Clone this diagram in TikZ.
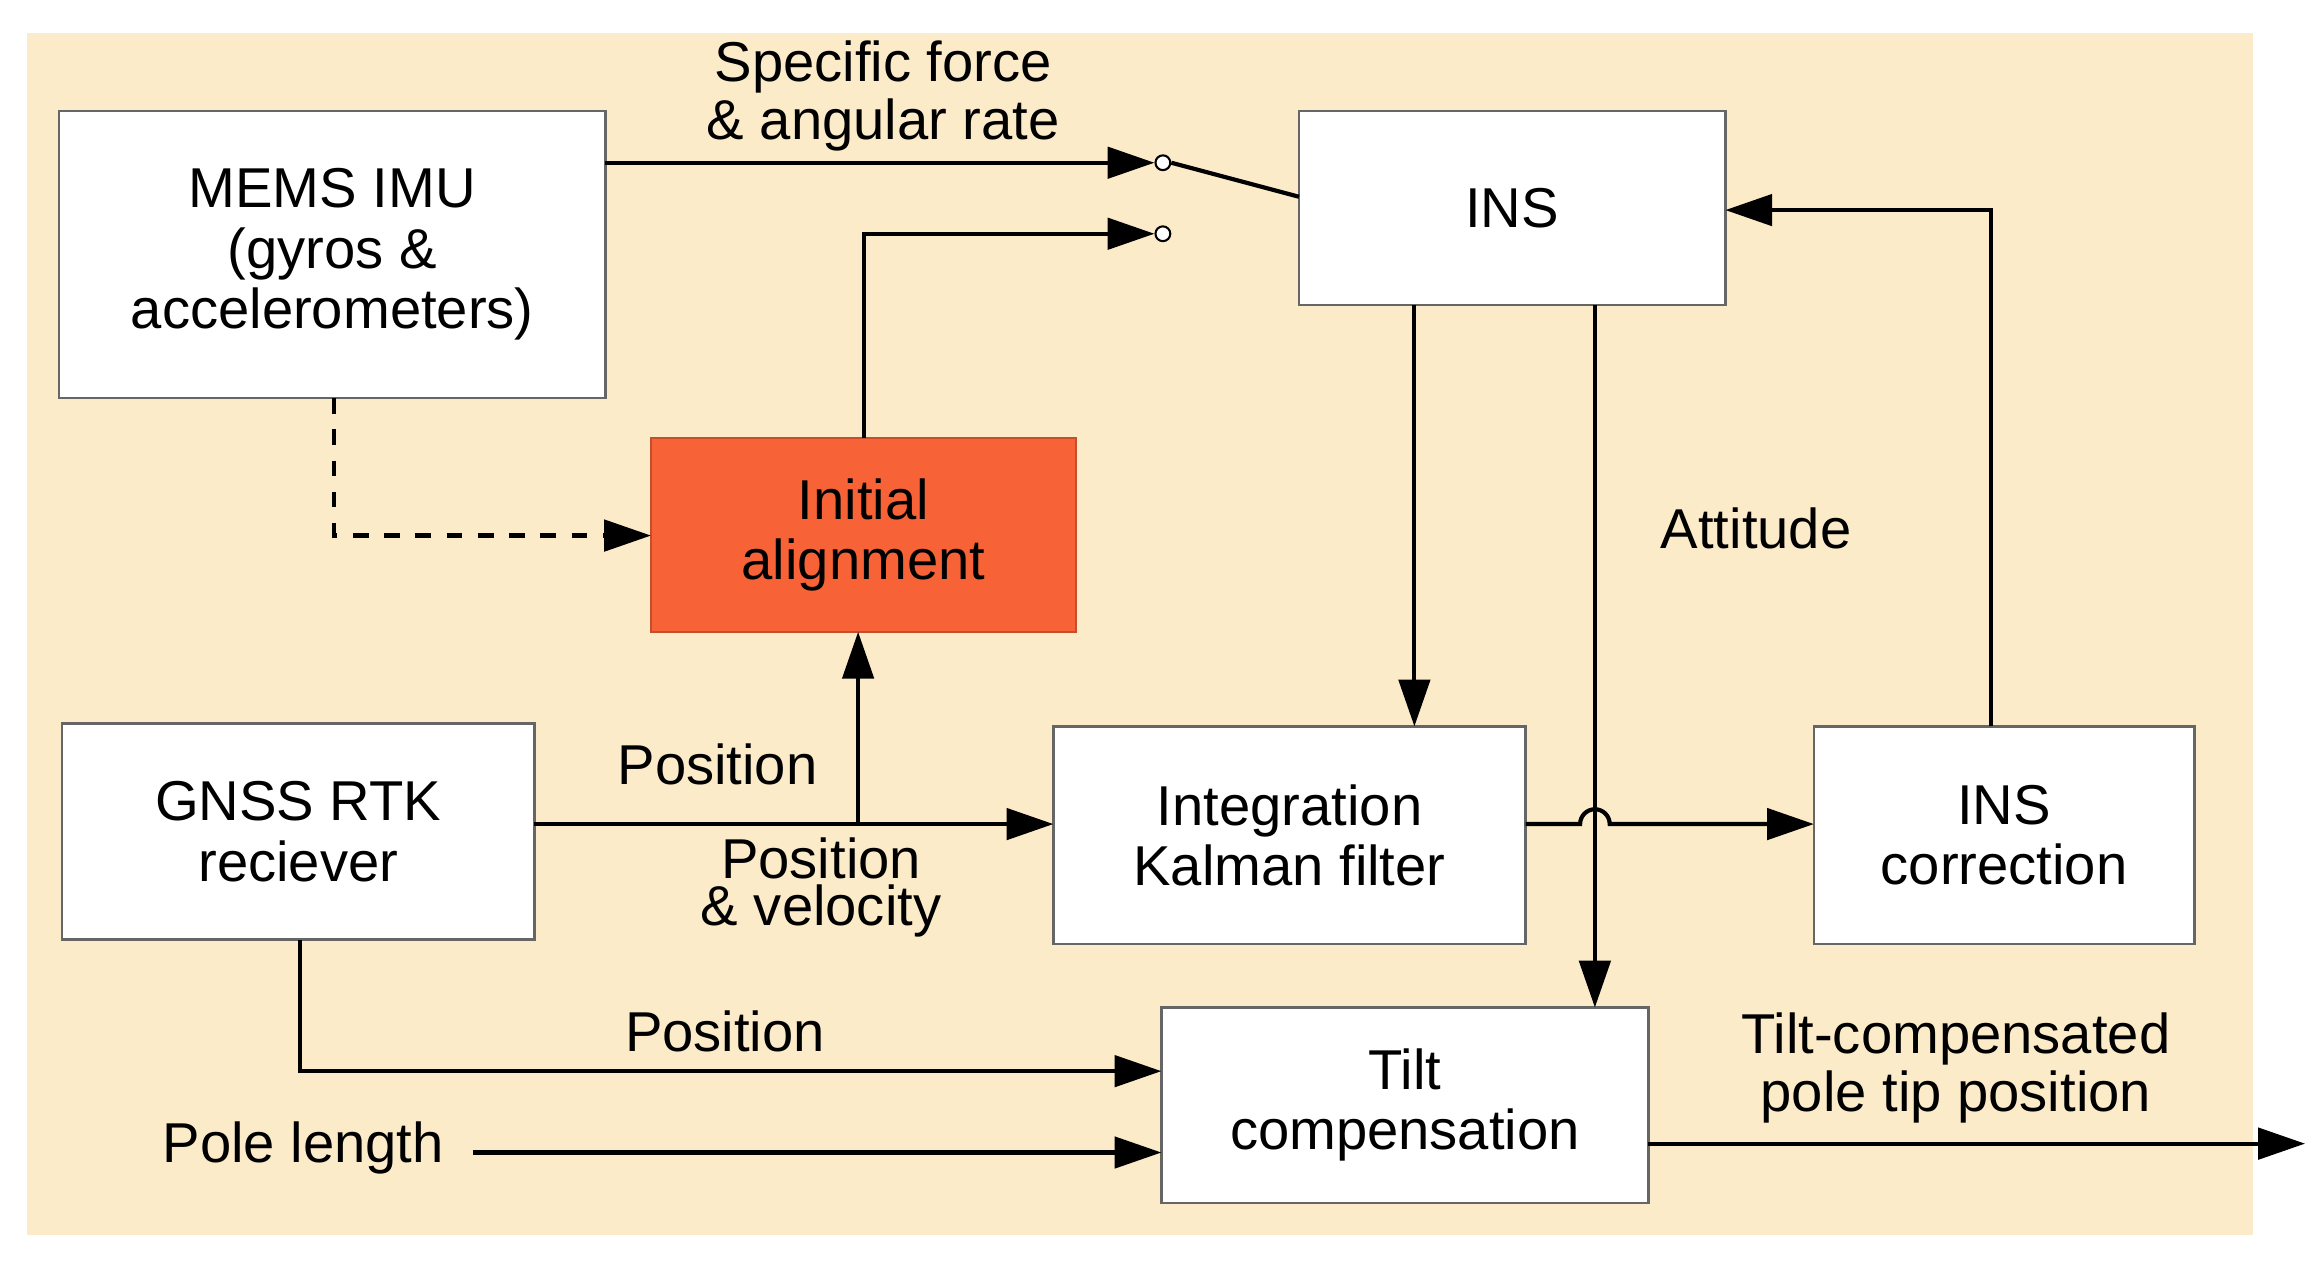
\documentclass[tikz,border=0pt]{standalone}
\usepackage{fontspec}
\setmainfont{Liberation Sans}
\usetikzlibrary{arrows.meta}
\definecolor{bg}{HTML}{FCEBC9}
\definecolor{ia}{HTML}{F76336}
\begin{document}
\begin{tikzpicture}[x=0.01cm,y=-0.01cm,
  box/.style={draw=black!60,fill=white,line width=0.5pt,inner sep=0pt,outer sep=0pt,align=center,font=\fontsize{10.8}{11.6}\selectfont},
  lbl/.style={align=center,font=\fontsize{10.8}{9}\selectfont,inner sep=0pt},
  con/.style={line width=0.8pt,-{Triangle[length=9pt,width=6pt]}},
  line/.style={line width=0.8pt}]
\useasboundingbox (0,0) rectangle (1560,858);
\fill[bg] (18,22) rectangle (1523,835);
\node[box,anchor=north west,minimum width=3.69cm,minimum height=1.94cm] (imu) at (40,75) {MEMS IMU\\(gyros \&\\accelerometers)};
\node[box,anchor=north west,minimum width=2.88cm,minimum height=1.31cm] (ins) at (878,75) {INS};
\node[box,fill=ia,draw=ia!80!black,anchor=north west,minimum width=2.87cm,minimum height=1.31cm] (ia) at (440,296) {Initial\\alignment};
\node[box,anchor=north west,minimum width=3.19cm,minimum height=1.46cm] (gnss) at (42,489) {GNSS RTK\\reciever};
\node[box,anchor=north west,minimum width=3.19cm,minimum height=1.47cm] (kf) at (712,491) {Integration\\Kalman filter};
\node[box,anchor=north west,minimum width=2.57cm,minimum height=1.47cm] (corr) at (1226,491) {INS\\correction};
\node[box,anchor=north west,minimum width=3.29cm,minimum height=1.32cm] (tilt) at (785,681) {Tilt\\compensation};
% switch
\node[draw,circle,fill=white,inner sep=0pt,minimum size=0.1cm,line width=0.4pt] (s1) at (786,110) {};
\node[draw,circle,fill=white,inner sep=0pt,minimum size=0.1cm,line width=0.4pt] (s2) at (786,158) {};
\draw[line] (s1.east) -- (ins.west |- 0,133);
\draw[con] (imu.east |- 0,110) -- (s1.west);
\draw[con] (ia.north -| 584,0) -- (584,158) -- (s2.west);
\draw[con,dashed] (imu.south -| 226,0) -- (226,362) -- (ia.west |- 0,362);
\draw[con] (gnss.east |- 0,557) -- (kf.west |- 0,557);
\draw[con] (580,557) -- (ia.south -| 580,0);
\draw[con] (ins.south -| 956,0) -- (kf.north -| 956,0);
\draw[con] (ins.south -| 1078,0) -- (tilt.north -| 1078,0);
\draw[con] (kf.east |- 0,557) -- (1068,557) arc (180:0:0.1cm) -- (corr.west |- 0,557);
\draw[con] (corr.north -| 1346,0) -- (1346,142) -- (ins.east |- 0,142);
\draw[con] (gnss.south -| 203,0) -- (203,724) -- (tilt.west |- 0,724);
\node[lbl] (pl) at (205,776) {Pole length};
\coordinate (plend) at (320,779);
\draw[con] (plend) -- (tilt.west |- 0,779);
\coordinate (out) at (1558,773);
\draw[con] (tilt.east |- 0,773) -- (out);
\node[lbl] (l1) at (597,65) {Specific force\\\& angular rate};
\node[lbl] (l2) at (485,517) {Position};
\node[lbl] (l3) at (555,600) {Position\\\& velocity};
\node[lbl] (l4) at (1187,357) {Attitude};
\node[lbl] (l5) at (490,697) {Position};
\node[lbl] (l6) at (1322,722) {Tilt-compensated\\pole tip position};
\end{tikzpicture}
\end{document}
